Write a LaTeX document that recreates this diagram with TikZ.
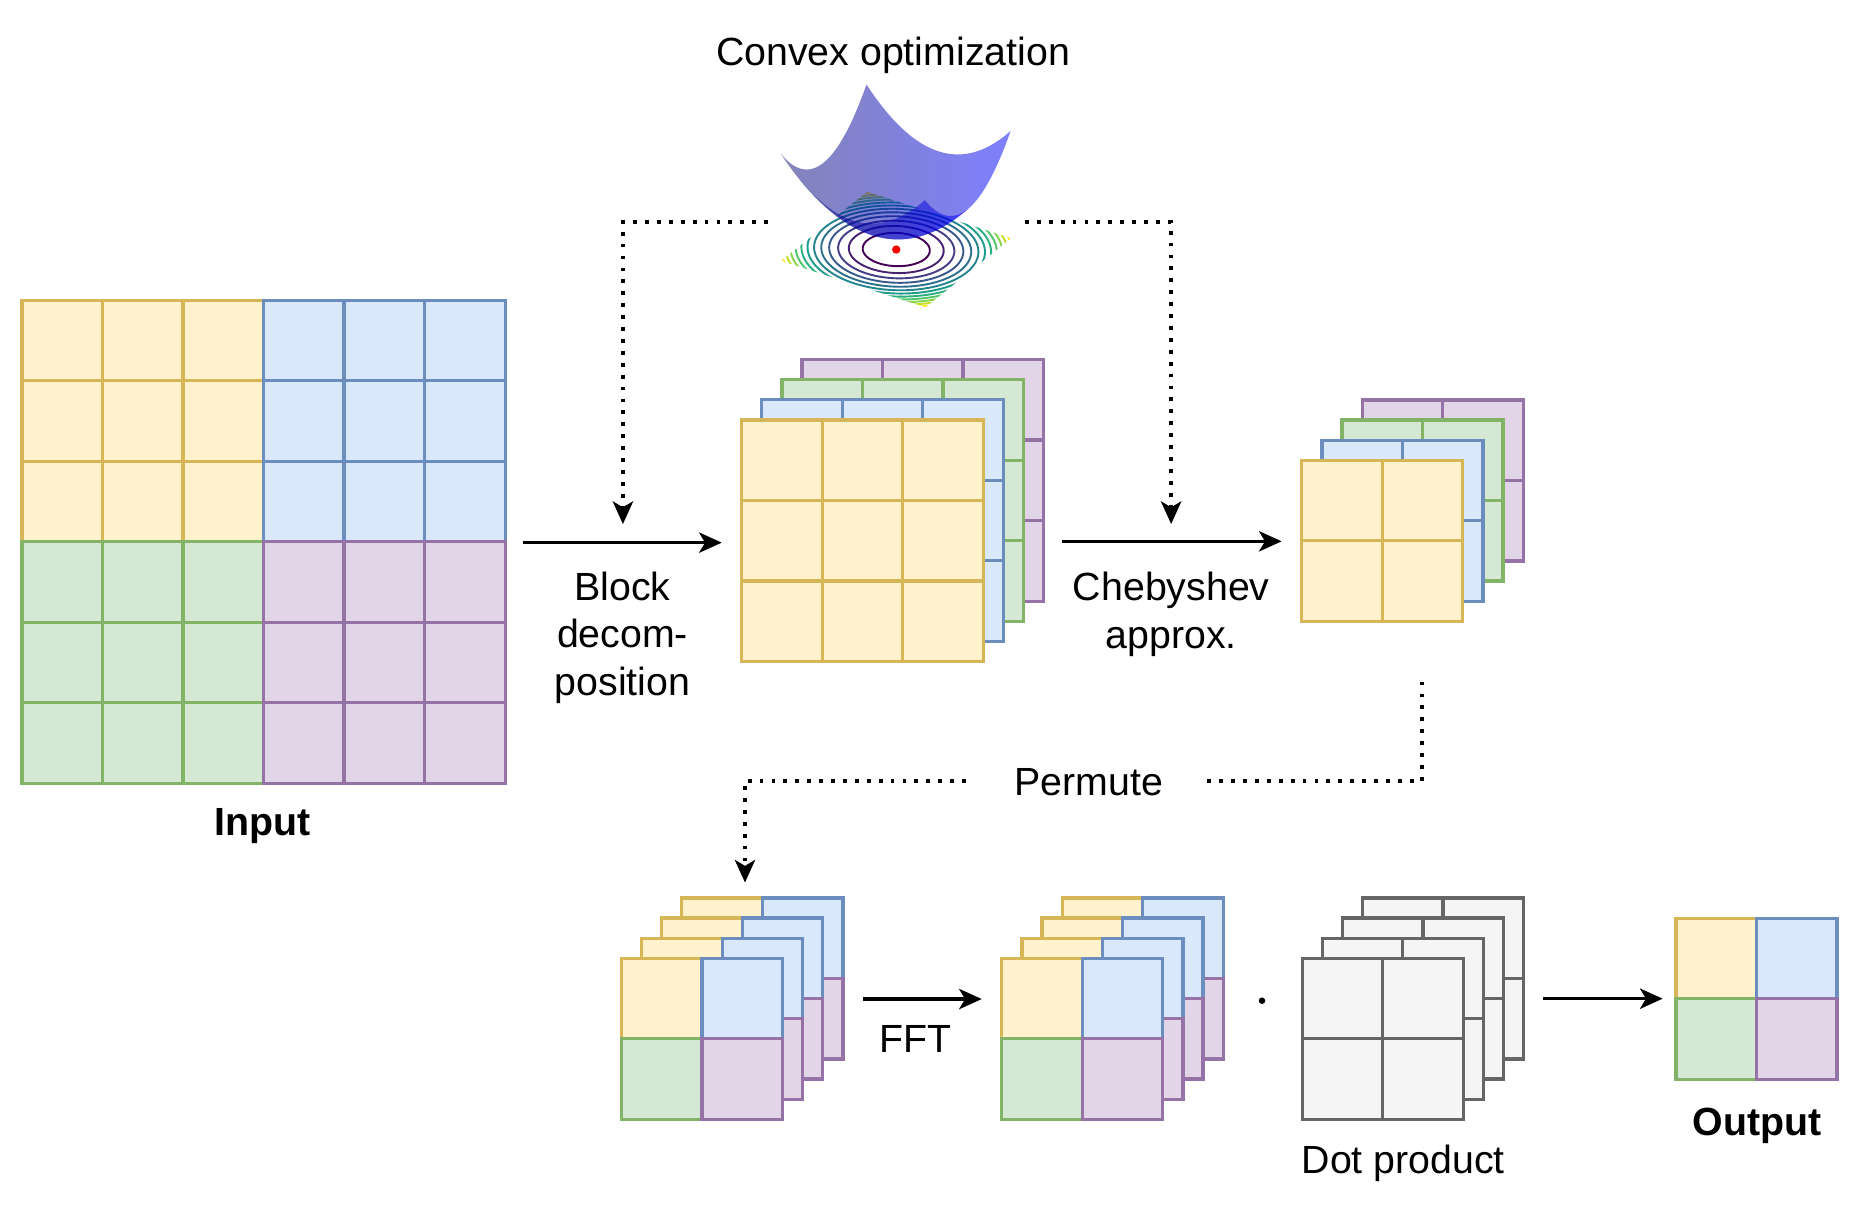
\documentclass[tikz,border=0pt]{standalone}
\usepackage{fontspec}
\setmainfont{Liberation Sans}
\usetikzlibrary{arrows.meta}
\definecolor{yF}{HTML}{FFF2CC}\definecolor{yS}{HTML}{D6B656}
\definecolor{bF}{HTML}{DAE8FC}\definecolor{bS}{HTML}{6C8EBF}
\definecolor{gF}{HTML}{D5E8D4}\definecolor{gS}{HTML}{82B366}
\definecolor{pF}{HTML}{E1D5E7}\definecolor{pS}{HTML}{9673A6}
\definecolor{kF}{HTML}{F5F5F5}\definecolor{kS}{HTML}{666666}
\definecolor{vA}{HTML}{440154}\definecolor{vB}{HTML}{482173}
\definecolor{vC}{HTML}{433E85}\definecolor{vD}{HTML}{38588C}
\definecolor{vE}{HTML}{2D708E}\definecolor{vF}{HTML}{25858E}
\definecolor{vG}{HTML}{1E9B8A}\definecolor{vH}{HTML}{2AB07F}
\definecolor{vI}{HTML}{52C569}\definecolor{vJ}{HTML}{86D549}
\definecolor{vK}{HTML}{C2DF23}\definecolor{vL}{HTML}{FDE725}
\definecolor{surfL}{rgb}{0.04,0.04,0.45}
\def\cellsz{67.6}
\def\dd{16.9}
\newcommand{\monolayer}[4]{%
  \foreach \ii in {1,...,#3}{\foreach \jj in {1,...,#3}{%
    \draw[#4] ({#1+(\ii-1)*\cellsz},{#2+(\jj-1)*\cellsz}) rectangle ++(\cellsz,\cellsz);}}}
\newcommand{\quadlayer}[2]{%
  \draw[cy] (#1,#2) rectangle ++(\cellsz,\cellsz);
  \draw[cb] ({#1+\cellsz},#2) rectangle ++(\cellsz,\cellsz);
  \draw[cg] (#1,{#2+\cellsz}) rectangle ++(\cellsz,\cellsz);
  \draw[cp] ({#1+\cellsz},{#2+\cellsz}) rectangle ++(\cellsz,\cellsz);}
\begin{document}
\begin{tikzpicture}[x=1pt,y=-1pt,
  cy/.style={fill=yF,draw=yS,line width=2.7pt},
  cb/.style={fill=bF,draw=bS,line width=2.7pt},
  cg/.style={fill=gF,draw=gS,line width=2.7pt},
  cp/.style={fill=pF,draw=pS,line width=2.7pt},
  ck/.style={fill=kF,draw=kS,line width=2.7pt},
  flow/.style={line width=3pt,-{Stealth[length=19pt,width=17pt,inset=5pt]}},
  dots/.style={line width=3.2pt,dash pattern=on 3.2pt off 6.8pt},
  dotflow/.style={dots,-{Stealth[length=19pt,width=17pt,inset=5pt]}},
  lbl/.style={font=\fontsize{33}{40}\selectfont,inner sep=0pt},
  blbl/.style={font=\fontsize{33}{40}\selectfont\bfseries,inner sep=0pt},
  surf/.style={left color=surfL,right color=blue,fill opacity=0.5},
  contour/.style={line width=1.6pt}]
\useasboundingbox (0,0) rectangle (1560,1024.3);
\fill[white] (0,0) rectangle (1560,1024.3);

% ---------- convex optimization plot ----------
\begin{scope}
  \clip (656,219)--(728,161)--(849,200)--(777,258)--cycle;
  \foreach \k/\col in {1/vA,2/vB,3/vC,4/vD,5/vE,6/vF,7/vG,8/vH,9/vI,10/vJ,11/vK,12/vL}{
    \draw[contour,\col] plot[domain=0:360,samples=121,variable=\t]
      ({752.5+0.4*sqrt(\k)*(36*cos(\t)+60.5*sin(\t))},{209.5+0.4*sqrt(\k)*(-29*cos(\t)+19.5*sin(\t))});
  }
\end{scope}
% surface, main sheet
\shade[surf]
  plot[domain=-1:1,samples=30,variable=\u] ({752+36*\u-60.5},{192.7-29*\u-19.5-36.6*((\u)^2+1)})
  -- plot[domain=-1:1,samples=30,variable=\v] ({752+36+60.5*\v},{192.7-29+19.5*\v-36.6*(1+(\v)^2)})
  -- plot[domain=1:0.04,samples=30,variable=\u] ({752+36*\u+60.5},{192.7-29*\u+19.5-36.6*((\u)^2+1)})
  -- plot[domain=0:1,samples=40,variable=\t] ({752+36*(0.04-1.04*\t)+60.5*(1-1.748*\t)},{192.7-29*(0.04-1.04*\t)+19.5*(1-1.748*\t)-36.6*((0.04-1.04*\t)^2+(1-1.748*\t)^2)})
  -- plot[domain=-0.748:-1,samples=10,variable=\v] ({752-36+60.5*\v},{192.7+29+19.5*\v-36.6*(1+(\v)^2)})
  -- cycle;
% surface, folded sheet near the front corner
\shade[surf]
  plot[domain=1:0,samples=40,variable=\t] ({752+36*(0.04-1.04*\t)+60.5*(1-1.748*\t)},{192.7-29*(0.04-1.04*\t)+19.5*(1-1.748*\t)-36.6*((0.04-1.04*\t)^2+(1-1.748*\t)^2)})
  -- plot[domain=0.04:-1,samples=30,variable=\u] ({752+36*\u+60.5},{192.7-29*\u+19.5-36.6*((\u)^2+1)})
  -- plot[domain=1:-0.748,samples=30,variable=\v] ({752-36+60.5*\v},{192.7+29+19.5*\v-36.6*(1+(\v)^2)})
  -- cycle;
\fill[red] (752.5,209.5) circle (3.5);

\node[lbl,anchor=base] (conv) at (749.8,54.6) {Convex optimization};

% ---------- input ----------
\monolayer{18.5}{252}{3}{cy}
\monolayer{221.3}{252}{3}{cb}
\monolayer{18.5}{454.8}{3}{cg}
\monolayer{221.3}{454.8}{3}{cp}
\node[blbl,anchor=base] (inp) at (220.7,701.6) {Input};

% ---------- stack 1 (3x3 blocks) ----------
\monolayer{673.4}{301.9}{3}{cp}
\monolayer{656.5}{318.8}{3}{cg}
\monolayer{639.6}{335.7}{3}{cb}
\monolayer{622.7}{352.6}{3}{cy}

% ---------- stack 2 (2x2 blocks) ----------
\monolayer{1143.7}{335.8}{2}{cp}
\monolayer{1126.8}{352.7}{2}{cg}
\monolayer{1109.9}{369.6}{2}{cb}
\monolayer{1093}{386.5}{2}{cy}

% ---------- stack 3 ----------
\quadlayer{572.5}{753.9}
\quadlayer{555.6}{770.8}
\quadlayer{538.7}{787.7}
\quadlayer{521.8}{804.6}

% ---------- stack 4 ----------
\quadlayer{891.8}{753.9}
\quadlayer{874.9}{770.8}
\quadlayer{858.0}{787.7}
\quadlayer{841.1}{804.6}

% ---------- gray stack ----------
\monolayer{1144.0}{753.9}{2}{ck}
\monolayer{1127.1}{770.8}{2}{ck}
\monolayer{1110.2}{787.7}{2}{ck}
\monolayer{1093.3}{804.6}{2}{ck}

% ---------- output ----------
\quadlayer{1407.2}{771}
\node[blbl,anchor=base] (outp) at (1475.3,953) {Output};

% ---------- labels ----------
\node[lbl,anchor=base] (blk) at (522.7,503.8) {\begin{tabular}[t]{@{}c@{}}Block\\decom-\\position\end{tabular}};
\node[lbl,anchor=base] (cheb) at (983.4,504.3) {\begin{tabular}[t]{@{}c@{}}Chebyshev\\approx.\end{tabular}};
\node[lbl,anchor=base] (perm) at (914,667.5) {Permute};
\node[lbl,anchor=base] (fft) at (768.6,883.9) {FFT};
\node[lbl,anchor=base] (dprod) at (1178.2,985.2) {Dot product};
\node[circle,fill=black,inner sep=0pt,minimum size=5.5pt] (dot) at (1059.6,840.2) {};

% ---------- connector end points ----------
\coordinate (a1s) at (438.9,455.6);  \coordinate (a1e) at (606,455.6);
\coordinate (a2s) at (891.4,454.5);  \coordinate (a2e) at (1076.1,454.5);
\coordinate (fftS) at (724.2,838.8); \coordinate (fftE) at (824.3,838.8);
\coordinate (outS) at (1295.3,838.5);\coordinate (outE) at (1396,838.5);
\coordinate (opL) at (644.8,186.4);  \coordinate (opLc) at (523,186.4);  \coordinate (opLe) at (523,440);
\coordinate (opR) at (860.6,186.4);  \coordinate (opRc) at (983.3,186.4); \coordinate (opRe) at (983.3,440);
\coordinate (pmS) at (1193.7,572.3); \coordinate (pmC) at (1193.7,655.5); \coordinate (pmR) at (1009.8,655.5);
\coordinate (pmL) at (811,655.5);    \coordinate (pmD) at (625.5,655.5); \coordinate (pmE) at (625.5,741);

% ---------- connectors ----------
\draw[flow] (a1s) -- (a1e);
\draw[flow] (a2s) -- (a2e);
\draw[flow] (fftS) -- (fftE);
\draw[flow] (outS) -- (outE);
\draw[dotflow] (opL) -- (opLc) -- (opLe);
\draw[dotflow] (opR) -- (opRc) -- (opRe);
\draw[dots] (pmS) -- (pmC) -- (pmR);
\draw[dotflow] (pmL) -- (pmD) -- (pmE);
\end{tikzpicture}
\end{document}
